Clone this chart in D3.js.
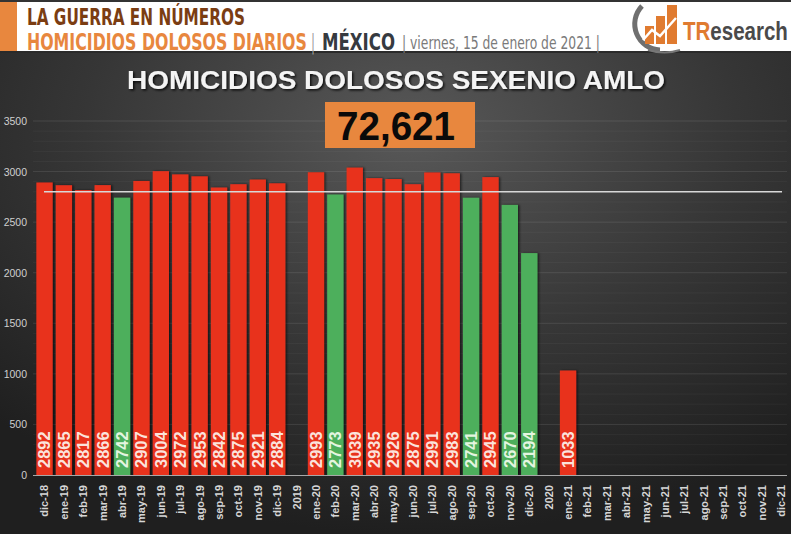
<!DOCTYPE html>
<html><head><meta charset="utf-8">
<script src="https://cdn.jsdelivr.net/npm/d3@7"></script>
<style>html,body{margin:0;padding:0;background:#222;overflow:hidden}svg{display:block}</style>
</head><body>
<script>
const categories = ["dic-18","ene-19","feb-19","mar-19","abr-19","may-19","jun-19","jul-19","ago-19","sep-19","oct-19","nov-19","dic-19","2019",
 "ene-20","feb-20","mar-20","abr-20","may-20","jun-20","jul-20","ago-20","sep-20","oct-20","nov-20","dic-20","2020",
 "ene-21","feb-21","mar-21","abr-21","may-21","jun-21","jul-21","ago-21","sep-21","oct-21","nov-21","dic-21"];
const values = [2892,2865,2817,2866,2742,2907,3004,2972,2953,2842,2875,2921,2884,null,
 2993,2773,3039,2935,2926,2875,2991,2983,2741,2945,2670,2194,null,
 1033,null,null,null,null,null,null,null,null,null,null,null];
// true = month marked as a decrease (green bar)
const isDecrease = [false,false,false,false,true,false,false,false,false,false,false,false,false,false,
 false,true,false,false,false,false,false,false,true,false,true,true,false,
 false,false,false,false,false,false,false,false,false,false,false,false];
const referenceValue = 2800;
const yTicks = [0,500,1000,1500,2000,2500,3000,3500];
const totalLabel = "72,621";
const chartTitle = "HOMICIDIOS DOLOSOS SEXENIO AMLO";
const headerLine1 = "LA GUERRA EN NÚMEROS";
const headerLine2 = "HOMICIDIOS DOLOSOS DIARIOS";
const headerPlace = "MÉXICO";
const headerDate = "| viernes, 15 de enero de 2021 |";

const W = 791, H = 534;
const svg = d3.select("body").append("svg").attr("width", W).attr("height", H);
const defs = svg.append("defs");
const rg = defs.append("radialGradient").attr("id","bg").attr("cx","52%").attr("cy","25%").attr("r","75%");
rg.append("stop").attr("offset","0%").attr("stop-color","#585858");
rg.append("stop").attr("offset","55%").attr("stop-color","#363636");
rg.append("stop").attr("offset","100%").attr("stop-color","#1f1f1f");
const sh = defs.append("filter").attr("id","tshadow").attr("x","-10%").attr("y","-30%").attr("width","120%").attr("height","160%");
sh.append("feDropShadow").attr("dx",1.5).attr("dy",1.5).attr("stdDeviation",1.2).attr("flood-color","#000").attr("flood-opacity",0.8);
const bsh = defs.append("filter").attr("id","bshadow").attr("x","-30%").attr("y","-5%").attr("width","160%").attr("height","110%");
bsh.append("feDropShadow").attr("dx",1.5).attr("dy",0).attr("stdDeviation",1.2).attr("flood-color","#000").attr("flood-opacity",0.6);

// fit a text to a target width by scaling about its anchor point
function fit(sel, x0, y0, targetW, sy) {
  const w = sel.node().getComputedTextLength();
  const sx = targetW / w;
  sel.attr("x", 0).attr("y", 0).attr("transform", `translate(${x0},${y0}) scale(${sx},${sy})`);
  return sel;
}

// background
svg.append("rect").attr("x",0).attr("y",0).attr("width",W).attr("height",H).attr("fill","url(#bg)");

// header
svg.append("rect").attr("x",0).attr("y",0).attr("width",W).attr("height",52).attr("fill","#fff");
svg.append("rect").attr("x",0).attr("y",0).attr("width",W).attr("height",2).attr("fill","#333");
svg.append("rect").attr("x",0).attr("y",51).attr("width",W).attr("height",2).attr("fill","#2a2a2a");
svg.append("rect").attr("x",0).attr("y",2).attr("width",17).attr("height",49).attr("fill","#e8873e");
const hf = "'DejaVu Sans Condensed','DejaVu Sans',sans-serif";
fit(svg.append("text").attr("font-family",hf).attr("font-weight","bold").attr("font-size",18).attr("fill","#7b3d12").text(headerLine1), 27, 25, 218, 1.3);
fit(svg.append("text").attr("font-family",hf).attr("font-weight","bold").attr("font-size",18).attr("fill","#e8873e").text(headerLine2), 27, 50, 280, 1.3);
fit(svg.append("text").attr("font-family",hf).attr("font-size",16).attr("fill","#a0a0a0").text("|"), 311, 49, 4, 1.3);
fit(svg.append("text").attr("font-family",hf).attr("font-weight","bold").attr("font-size",18).attr("fill","#363a40").text(headerPlace), 322, 50, 73, 1.3);
fit(svg.append("text").attr("font-family",hf).attr("font-size",14).attr("fill","#7a7a7a").text(headerDate), 402, 49, 198, 1.3);

// logo
const logo = svg.append("g");
logo.append("path").attr("d","M642,6 A26,26 0 0 0 660,50").attr("fill","none").attr("stroke","#6f6f6f").attr("stroke-width",5);
logo.append("rect").attr("x",645).attr("y",26).attr("width",9).attr("height",18).attr("fill","#e07b30");
logo.append("rect").attr("x",656).attr("y",16).attr("width",9).attr("height",28).attr("fill","#e07b30");
logo.append("rect").attr("x",667).attr("y",5).attr("width",10).attr("height",39).attr("fill","#e07b30");
logo.append("path").attr("d","M643,40 L652,30 L660,36 L676,18").attr("fill","none").attr("stroke","#fff").attr("stroke-width",2.5);
logo.append("path").attr("d","M648,50 Q665,55 680,50").attr("fill","none").attr("stroke","#777").attr("stroke-width",2);
const lt = logo.append("text").attr("font-family","'Liberation Sans',Arial,sans-serif").attr("font-weight","bold").attr("font-size",20);
lt.append("tspan").attr("fill","#e07b30").text("TR");
lt.append("tspan").attr("fill","#4a4a4a").text("esearch");
fit(lt, 683, 40, 105, 1.3);

// scales
const x = d3.scaleBand().domain(categories).range([34.8, 791]).paddingInner(0.16).paddingOuter(0.08);
const y = d3.scaleLinear().domain([0, 3500]).range([475, 121]);

// grid stripes
svg.append("g").selectAll("line").data(d3.range(100, 3600, 100)).join("line")
  .attr("x1",33).attr("x2",787).attr("y1",d=>y(d)).attr("y2",d=>y(d))
  .attr("stroke","#fff").attr("stroke-opacity",d=> d%500===0 ? 0.10 : 0.04).attr("stroke-width",1);

// y axis labels
const ff = "'Liberation Sans',Arial,Helvetica,sans-serif";
svg.append("g").selectAll("text").data(yTicks).join("text")
  .attr("x",27).attr("y",d=>y(d)+4).attr("text-anchor","end").attr("font-family",ff).attr("font-size",10.5)
  .attr("fill","#cfcfcf").text(d=>d);

// bars
const data = categories.map((c,i)=>({c, v: values[i], dec: isDecrease[i]})).filter(d=>d.v!=null);
svg.append("g").attr("filter","url(#bshadow)").selectAll("rect").data(data).join("rect")
  .attr("x",d=>x(d.c)).attr("width",x.bandwidth()).attr("y",d=>y(d.v)).attr("height",d=>y(0)-y(d.v))
  .attr("fill",d=> d.dec ? "#4daf5b" : "#e8321f");

// data labels
svg.append("g").selectAll("text").data(data).join("text")
  .attr("transform",d=>`translate(${x(d.c)+x.bandwidth()/2},468) rotate(-90)`)
  .attr("dy","0.36em").attr("text-anchor","start").attr("font-family",ff).attr("font-weight","bold")
  .attr("font-size",16.5).attr("fill",d=> d.dec ? "#e4f5e0" : "#fbe3dc").text(d=>d.v);

// reference line
svg.append("line").attr("x1",44).attr("x2",782).attr("y1",y(referenceValue)).attr("y2",y(referenceValue))
  .attr("stroke","#d8d8d8").attr("stroke-width",1.6);

// zero axis line
svg.append("line").attr("x1",33).attr("x2",787).attr("y1",475.5).attr("y2",475.5).attr("stroke","#a8a8a8").attr("stroke-width",1.2);

// x labels
svg.append("g").selectAll("text").data(categories).join("text")
  .attr("transform",d=>`translate(${x(d)+x.bandwidth()/2},485) rotate(-90)`)
  .attr("dy","0.36em").attr("text-anchor","end").attr("font-family",ff).attr("font-weight","bold")
  .attr("font-size",11).attr("fill","#d6d6d6").text(d=>d);

// title
svg.append("text").attr("x",396).attr("y",89).attr("text-anchor","middle").attr("font-family",ff).attr("font-weight","bold")
  .attr("font-size",26).attr("fill","#f4f4f4").attr("filter","url(#tshadow)")
  .attr("textLength",538).attr("lengthAdjust","spacingAndGlyphs").text(chartTitle);

// total box
svg.append("rect").attr("x",325).attr("y",102).attr("width",150).attr("height",46).attr("fill","#e8873e");
svg.append("text").attr("x",396).attr("y",140).attr("text-anchor","middle").attr("font-family",ff).attr("font-weight","bold")
  .attr("font-size",40).attr("fill","#0a0a0a").attr("textLength",118).attr("lengthAdjust","spacingAndGlyphs").text(totalLabel);
</script>
</body></html>
